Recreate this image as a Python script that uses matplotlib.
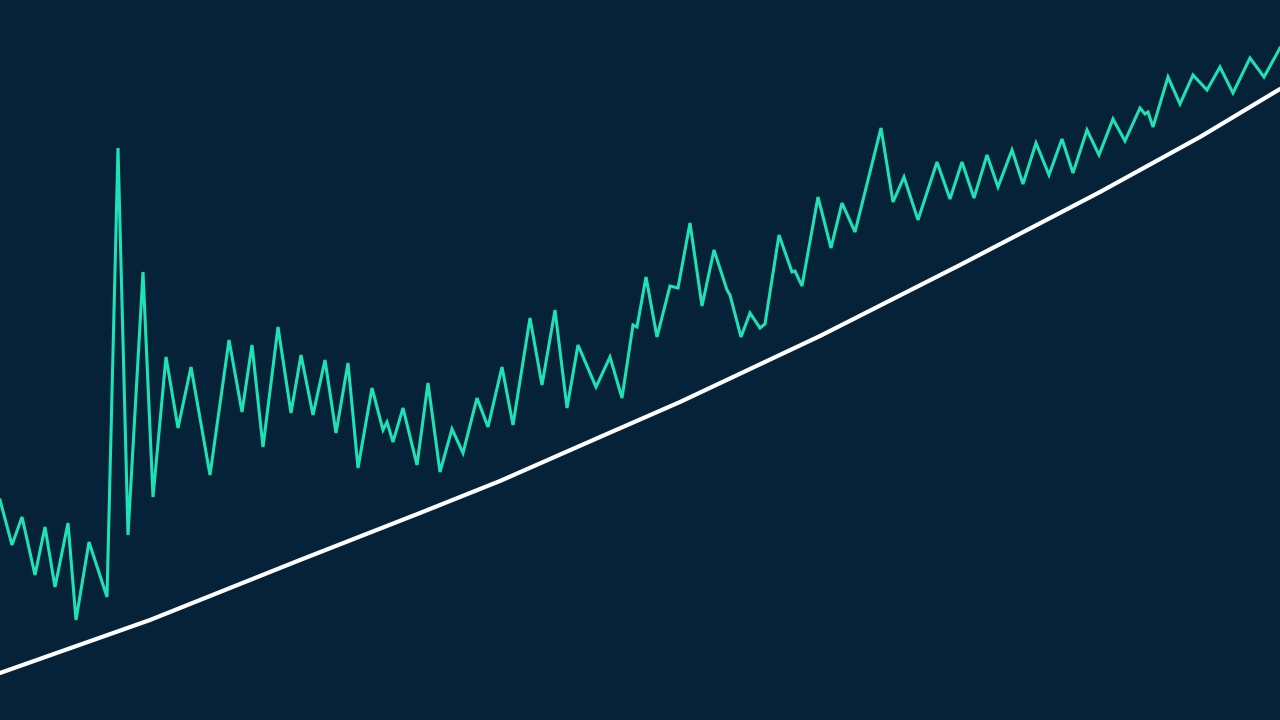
import matplotlib
matplotlib.use('Agg')
from matplotlib import pyplot as plt

price_x = [0, 12, 22, 35, 45, 55, 68, 76, 89, 107, 118, 128, 143, 153, 166, 178, 191,
           210, 229, 242, 252, 263, 278, 291, 301, 313, 325, 336, 348, 358, 372, 383,
           387, 393, 403, 417, 428, 440, 452, 463, 477, 488, 502, 513, 530, 542, 555,
           567, 578, 596, 610, 622, 633, 637, 646, 657, 670, 678, 690, 702, 714, 727,
           730, 741, 750, 760, 765, 779, 792, 795, 802, 818, 831, 842, 855, 881, 893,
           904, 918, 937, 950, 962, 974, 987, 998, 1012, 1023, 1036, 1049, 1062, 1073,
           1087, 1099, 1113, 1125, 1140, 1145, 1148, 1153, 1168, 1180, 1193, 1207,
           1220, 1233, 1250, 1264, 1280]
price_y = [500, 545, 517, 575, 527, 587, 523, 620, 542, 597, 148, 535, 272, 497, 357, 428, 367,
           475, 340, 412, 345, 447, 327, 413, 355, 415, 360, 433, 363, 468, 388, 430,
           422, 442, 408, 465, 383, 472, 429, 453, 398, 427, 367, 425, 318, 385, 310,
           408, 345, 387, 357, 398, 325, 327, 277, 337, 286, 288, 223, 306, 250, 290,
           295, 337, 313, 328, 324, 235, 272, 271, 286, 197, 248, 203, 232, 128, 202,
           177, 220, 162, 199, 162, 198, 155, 187, 150, 184, 143, 175, 139, 173,
           130, 155, 119, 141, 108, 114, 112, 127, 77, 104, 75, 90,
           67, 93, 58, 77, 48]

trend_x = [0, 150, 300, 420, 500, 600, 680, 820, 960, 1100, 1200, 1280]
trend_y = [673, 620, 560, 513, 481, 437, 402, 336, 265, 192, 137, 89]

bg = '#062239'

fig = plt.figure(figsize=(12.8, 7.2), dpi=100, facecolor=bg)
ax = fig.add_axes([0, 0, 1, 1])
ax.set_facecolor(bg)
ax.plot(trend_x, trend_y, color='white', lw=3.0, solid_capstyle='round')
ax.plot(price_x, price_y, color='#1ee2b5', lw=2.2, solid_joinstyle='miter')
ax.set_xlim(0, 1280)
ax.set_ylim(720, 0)
ax.axis('off')
fig.savefig('out.png', dpi=100, facecolor=bg)
